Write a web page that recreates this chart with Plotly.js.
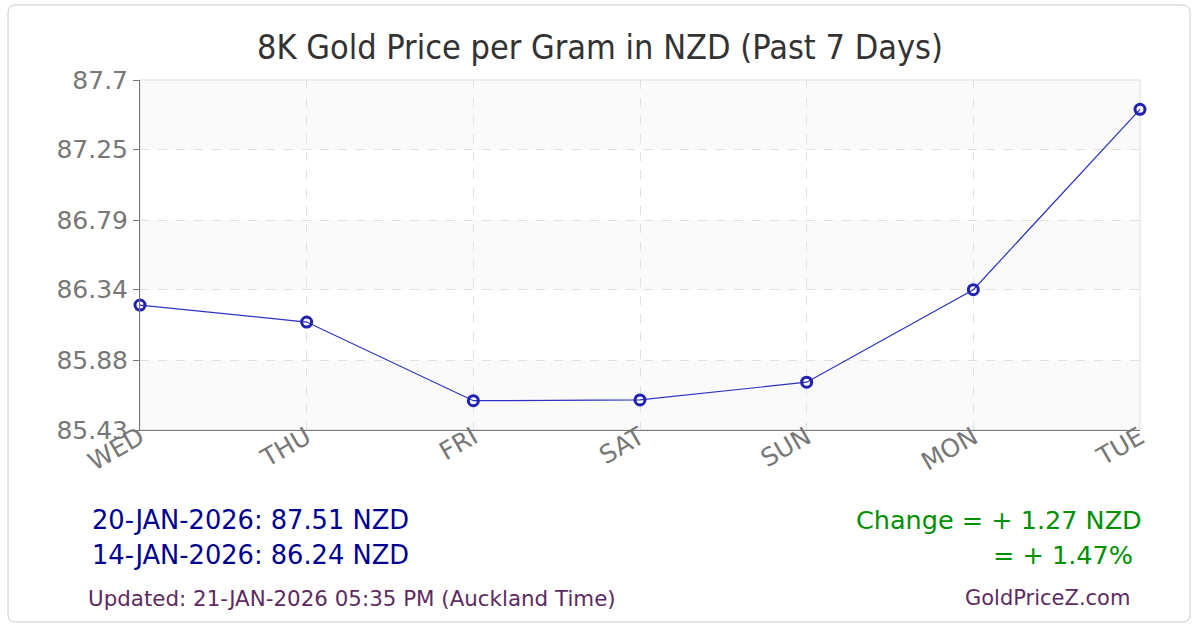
<!DOCTYPE html>
<html>
<head>
<meta charset="utf-8">
<script src="https://cdn.plot.ly/plotly-3.0.1.min.js"></script>
<style>
  body { margin: 0; background: #fff; }
  #plot { width: 1200px; height: 630px; }
</style>
</head>
<body>
<div id="plot"></div>
<script>
// days and 8K gold price per gram (NZD)
var days = ['WED', 'THU', 'FRI', 'SAT', 'SUN', 'MON', 'TUE'];
var prices = [86.24, 86.13, 85.62, 85.625, 85.74, 86.34, 87.51];
var yTicks = [85.43, 85.88, 86.34, 86.79, 87.25, 87.7];
var yTickText = ['85.43', '85.88', '86.34', '86.79', '87.25', '87.7'];

var font = '"DejaVu Sans", Verdana, sans-serif';
var titleFont = '"DejaVu Sans Condensed", "DejaVu Sans", sans-serif';

// plot area in pixels, used to place the notes outside it
var L = 140, R = 60, T = 80, B = 200, W = 1200, H = 630;
function px(x) { return (x - L) / (W - L - R); }
function py(y) { return (H - B - y) / (H - T - B); }

// alternating stripes between ticks
var shapes = [];
for (let i = 0; i < yTicks.length - 1; i++) {
  if ((yTicks.length - 2 - i) % 2 === 0) {
    shapes.push({
      type: 'rect', xref: 'paper', yref: 'y', layer: 'below',
      x0: 0, x1: 1, y0: yTicks[i], y1: yTicks[i + 1],
      fillcolor: '#fafafa', line: {width: 0}
    });
  }
}
// plot frame
shapes.push({
  type: 'rect', xref: 'paper', yref: 'paper', layer: 'below',
  x0: 0, x1: 1, y0: 0, y1: 1, line: {color: '#dddddd', width: 1}
});
// outer card border
shapes.push({
  type: 'path', xref: 'paper', yref: 'paper', layer: 'below',
  path: roundRect(px(8), py(5), px(1190), py(622), 0.008, 0.02),
  line: {color: '#cccccc', width: 1}
});

function roundRect(x0, y0, x1, y1, rx, ry) {
  return 'M' + (x0 + rx) + ',' + y0 +
    ' L' + (x1 - rx) + ',' + y0 + ' Q' + x1 + ',' + y0 + ' ' + x1 + ',' + (y0 - ry) +
    ' L' + x1 + ',' + (y1 + ry) + ' Q' + x1 + ',' + y1 + ' ' + (x1 - rx) + ',' + y1 +
    ' L' + (x0 + rx) + ',' + y1 + ' Q' + x0 + ',' + y1 + ' ' + x0 + ',' + (y1 + ry) +
    ' L' + x0 + ',' + (y0 - ry) + ' Q' + x0 + ',' + y0 + ' ' + (x0 + rx) + ',' + y0 + ' Z';
}

var first = prices[0], last = prices[prices.length - 1];
var change = last - first;
var pct = change / first * 100;

function note(text, x, y, anchor, color, size) {
  return {
    text: text, xref: 'paper', yref: 'paper', x: px(x), y: py(y),
    xanchor: anchor, yanchor: 'middle', showarrow: false,
    font: {family: font, size: size, color: color}
  };
}

var annotations = [
  note('20-JAN-2026: ' + last.toFixed(2) + ' NZD', 90, 520, 'left', '#000090', 25.7),
  note('14-JAN-2026: ' + first.toFixed(2) + ' NZD', 90, 555, 'left', '#000090', 25.7),
  note('Updated: 21-JAN-2026 05:35 PM (Auckland Time)', 86, 598, 'left', '#5e2a62', 21.4),
  note('Change = + ' + change.toFixed(2) + ' NZD', 1144, 520, 'right', '#009000', 25.5),
  note('= + ' + pct.toFixed(2) + '%', 1135, 555, 'right', '#009000', 25.5),
  note('GoldPriceZ.com', 1132, 598, 'right', '#5e2a62', 21)
];

var trace = {
  x: days,
  y: prices,
  type: 'scatter',
  mode: 'lines+markers',
  cliponaxis: false,
  line: {color: '#2b33c0', width: 1.2},
  marker: {symbol: 'circle-open', size: 10, color: '#1f22b0', line: {width: 3, color: '#1f22b0'}},
  hoverinfo: 'x+y'
};

var layout = {
  width: W, height: H,
  margin: {l: L, r: R, t: T, b: B},
  paper_bgcolor: '#ffffff',
  plot_bgcolor: '#ffffff',
  showlegend: false,
  title: {
    text: '8K Gold Price per Gram in NZD (Past 7 Days)',
    x: 0.5, xanchor: 'center', y: 1 - 47 / H, yanchor: 'middle',
    font: {family: titleFont, size: 34, color: '#333333'}
  },
  xaxis: {
    type: 'category',
    range: [0, days.length - 1],
    showline: true, linecolor: '#777777', linewidth: 1,
    showgrid: true, gridcolor: '#e0e0e0', griddash: 'dash', gridwidth: 1,
    ticks: '', tickangle: -30, ticklabelstandoff: -18,
    tickfont: {family: font, size: 25, color: '#777777'},
    zeroline: false
  },
  yaxis: {
    range: [yTicks[0], yTicks[yTicks.length - 1]],
    tickvals: yTicks, ticktext: yTickText,
    showline: true, linecolor: '#777777', linewidth: 1,
    showgrid: true, gridcolor: '#e0e0e0', griddash: 'dash', gridwidth: 1,
    ticks: 'outside', ticklen: 6, tickcolor: '#777777',
    tickfont: {family: font, size: 25, color: '#777777'},
    zeroline: false
  },
  shapes: shapes,
  annotations: annotations
};

Plotly.newPlot('plot', [trace], layout, {displayModeBar: false, staticPlot: true});
</script>
</body>
</html>
